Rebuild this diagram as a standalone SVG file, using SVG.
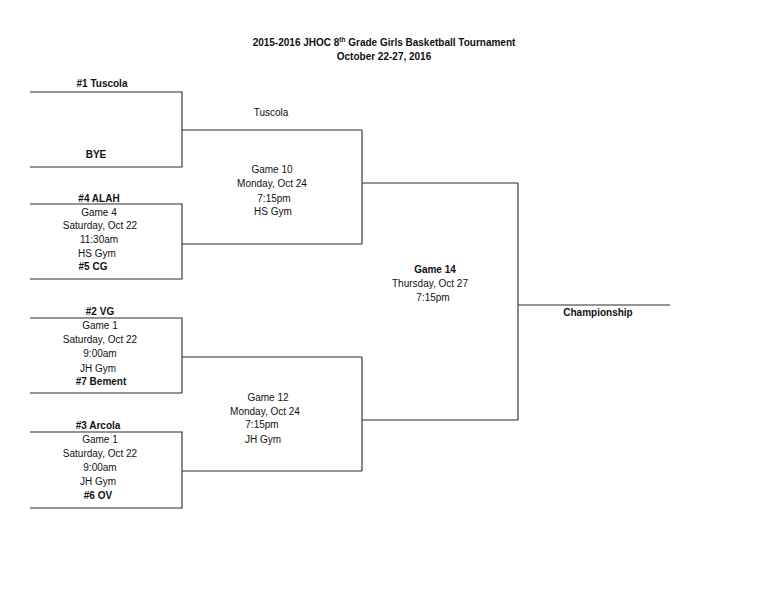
<svg xmlns="http://www.w3.org/2000/svg" width="768" height="594" viewBox="0 0 768 594">
<style>
text{font-family:"Liberation Sans",Arial,sans-serif;font-size:10px;fill:#111;text-anchor:middle}
.b{font-weight:bold}
.ln{fill:none;stroke:#2a2a2a;stroke-width:1.1}
</style>
<rect width="768" height="594" fill="#fff"/>
<g id="title">
<text class="b" x="384" y="46">2015-2016 JHOC 8<tspan font-size="6.5" dy="-4">th</tspan><tspan dy="4"> Grade Girls Basketball Tournament</tspan></text>
<text class="b" x="384" y="60">October 22-27, 2016</text>
</g>
<g id="connectors">
<path class="ln" d="M30 92H182V167H30M182 130H362"/>
<path class="ln" d="M30 204H182V279H30M182 244H362"/>
<path class="ln" d="M30 318H182V393H30M182 357H362"/>
<path class="ln" d="M30 432H182V508H30M182 471H362"/>
<path class="ln" d="M362 130V244M362 183H518"/>
<path class="ln" d="M362 357V471M362 420H518"/>
<path class="ln" d="M518 183V420M518 305H670"/>
</g>
<g id="match1">
<text class="b" x="102" y="87">#1 Tuscola</text>
<text class="b" x="96" y="158">BYE</text>
</g>
<g id="match2">
<text class="b" x="99" y="202">#4 ALAH</text>
<text x="99" y="216">Game 4</text>
<text x="100" y="229">Saturday, Oct 22</text>
<text x="99" y="243">11:30am</text>
<text x="97" y="257">HS Gym</text>
<text class="b" x="93" y="270">#5 CG</text>
</g>
<g id="match3">
<text class="b" x="100" y="315">#2 VG</text>
<text x="100" y="329">Game 1</text>
<text x="100" y="343">Saturday, Oct 22</text>
<text x="100" y="357">9:00am</text>
<text x="98" y="372">JH Gym</text>
<text class="b" x="101" y="385">#7 Bement</text>
</g>
<g id="match4">
<text class="b" x="98" y="429">#3 Arcola</text>
<text x="100" y="443">Game 1</text>
<text x="100" y="457">Saturday, Oct 22</text>
<text x="100" y="471">9:00am</text>
<text x="98" y="485">JH Gym</text>
<text class="b" x="98" y="499">#6 OV</text>
</g>
<g id="game10">
<text x="271" y="116">Tuscola</text>
<text x="272" y="173">Game 10</text>
<text x="272" y="187">Monday, Oct 24</text>
<text x="274" y="202">7:15pm</text>
<text x="273" y="215">HS Gym</text>
</g>
<g id="game12">
<text x="268" y="401">Game 12</text>
<text x="265" y="415">Monday, Oct 24</text>
<text x="262" y="428">7:15pm</text>
<text x="263" y="443">JH Gym</text>
</g>
<g id="game14">
<text class="b" x="435" y="273">Game 14</text>
<text x="430" y="287">Thursday, Oct 27</text>
<text x="433" y="301">7:15pm</text>
</g>
<g id="championship">
<text class="b" x="598" y="316">Championship</text>
</g>
</svg>
